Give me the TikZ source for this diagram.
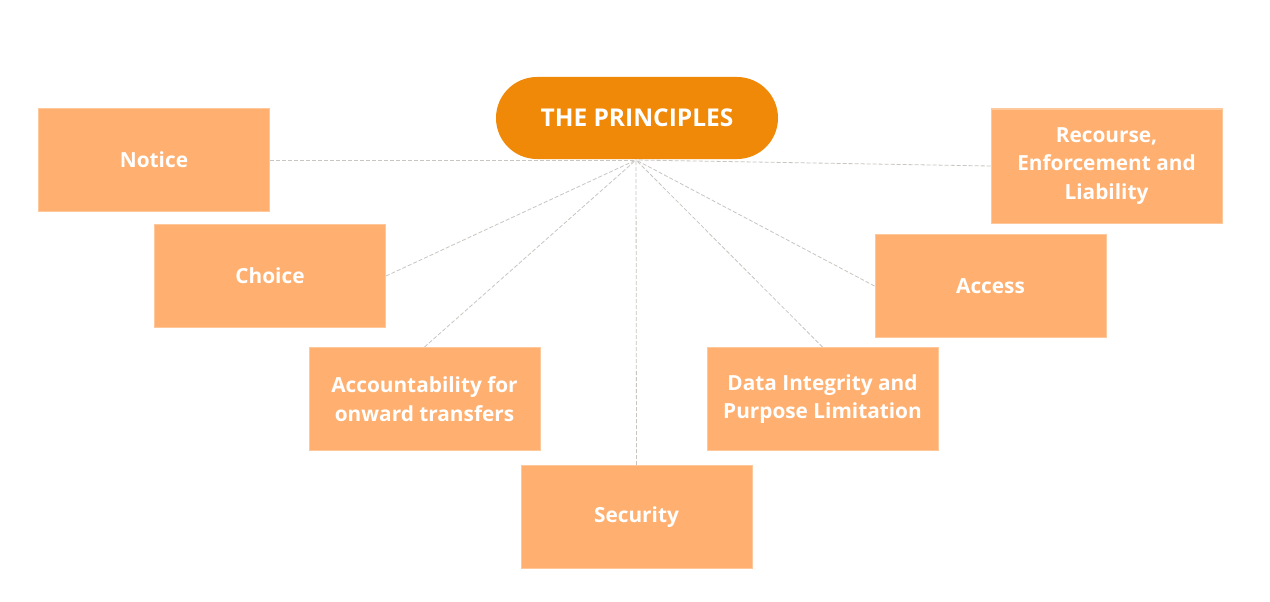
\documentclass[tikz,border=0pt]{standalone}
\usepackage{fontspec}
\setmainfont{Open Sans}
\definecolor{pillc}{HTML}{F08808}
\definecolor{boxc}{HTML}{FFB070}
\definecolor{boxedge}{HTML}{FFC89A}
\definecolor{linec}{HTML}{C9C5C1}
\begin{document}
\begin{tikzpicture}[x=1pt,y=-1pt,
  pbox/.style={rectangle,fill=boxc,draw=boxedge,line width=1pt,minimum width=231pt,minimum height=103pt,
    text=white,font=\fontsize{20.8}{28.5}\selectfont\bfseries,align=center,inner sep=0pt},
  conn/.style={draw=linec,line width=0.8pt,dash pattern=on 4pt off 2pt}]
\useasboundingbox (0,0) rectangle (1270,602);
\fill[white] (0,0) rectangle (1270,602);
\coordinate (h) at (636,160);
\node[pbox] (notice) at (154,160) {Notice};
\node[pbox] (choice) at (270,276) {Choice};
\node[pbox] (acc) at (424.5,399) {Accountability for\\onward transfers};
\node[pbox] (sec) at (636.5,517) {Security};
\node[pbox] (data) at (822.5,399) {Data Integrity and\\Purpose Limitation};
\node[pbox] (access) at (990.5,286) {Access};
\node[pbox,minimum height=114pt] (rec) at (1106.5,166) {Recourse,\\Enforcement and\\Liability};
\draw[conn] (notice.east) -- (h);
\draw[conn] (choice.east) -- (h);
\draw[conn] (acc.north) -- (h);
\draw[conn] (sec.north) -- (h);
\draw[conn] (data.north) -- (h);
\draw[conn] (access.west) -- (h);
\draw[conn] (rec.west) -- (h);
\fill[pillc,rounded corners=41pt] (496,77) rectangle (778,159);
\node[text=white,font=\fontsize{24.5}{28}\selectfont\bfseries] (title) at (637,118) {THE PRINCIPLES};
\end{tikzpicture}
\end{document}
